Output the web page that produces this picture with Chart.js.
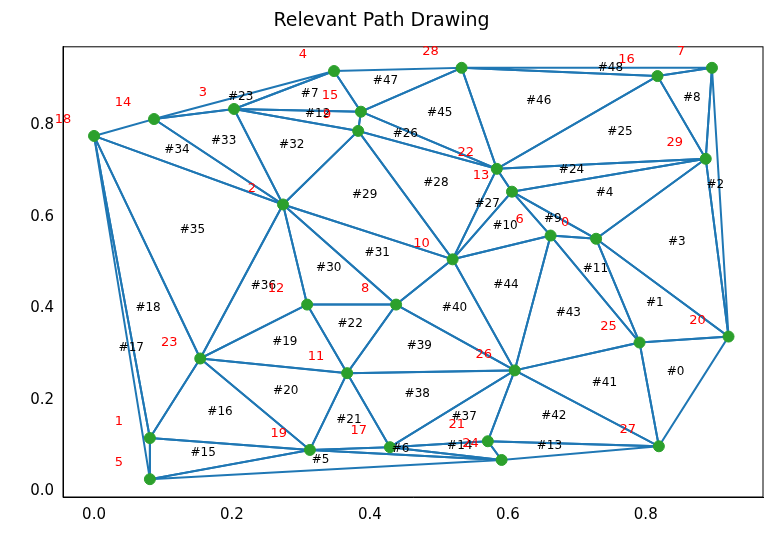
<!DOCTYPE html>
<html>
<head>
<meta charset="UTF-8">
<script src="https://cdn.jsdelivr.net/npm/chart.js"></script>
<style>body{margin:0;background:#fff}#wrap{width:775px;height:550px}</style>
</head>
<body>
<div id="wrap"><canvas id="c"></canvas></div>
<script>
// point coordinates (index = point id)
const ptX = [0.728,0.081,0.274,0.203,0.348,0.081,0.662,0.896,0.438,0.383,0.520,0.367,0.309,0.606,0.087,0.387,0.817,0.429,0.000,0.313,0.920,0.571,0.584,0.154,0.591,0.791,0.610,0.819,0.533,0.887];
const ptY = [0.552,0.116,0.627,0.836,0.919,0.026,0.559,0.926,0.408,0.788,0.507,0.258,0.408,0.655,0.814,0.830,0.908,0.096,0.777,0.090,0.338,0.109,0.705,0.290,0.068,0.325,0.264,0.098,0.926,0.727];
// triangles (index = triangle id)
const triangles = [
  [25,20,27],[0,20,25],[29,7,20],[0,29,20],[13,29,0],[5,19,24],[19,17,24],[3,4,15],
  [16,7,29],[13,6,0],[13,6,10],[6,0,25],[3,15,9],[21,27,24],[17,21,24],[1,19,5],
  [1,23,19],[18,1,5],[18,23,1],[23,12,11],[23,11,19],[11,17,19],[12,8,11],[14,4,3],
  [22,29,13],[22,16,29],[15,22,9],[22,13,10],[9,22,10],[2,9,10],[2,8,12],[2,10,8],
  [3,9,2],[14,3,2],[18,14,2],[18,2,23],[2,12,23],[17,26,21],[11,26,17],[8,26,11],
  [10,26,8],[26,25,27],[26,27,21],[6,25,26],[10,6,26],[15,28,22],[28,16,22],[4,28,15],[28,7,16]
];
const tickVals = [0.0, 0.2, 0.4, 0.6, 0.8];

const datasets = triangles.map(t => ({
  type: 'scatter', showLine: true, order: 1,
  data: [...t, t[0]].map(i => ({x: ptX[i], y: ptY[i]})),
  borderColor: '#1f77b4', borderWidth: 2, pointRadius: 0, fill: false
}));
datasets.push({
  type: 'scatter', order: 0,
  data: ptX.map((x, i) => ({x: x, y: ptY[i]})),
  backgroundColor: '#2ca02c', borderColor: '#2ca02c', pointRadius: 5.5, pointHoverRadius: 5.5
});

const labelPlugin = {
  id: 'labels',
  afterDatasetsDraw(chart) {
    const {ctx, scales: {x, y}, chartArea: a} = chart;
    ctx.save();
    ctx.strokeStyle = '#000'; ctx.lineWidth = 1;
    ctx.strokeRect(a.left, a.top, a.right - a.left, a.bottom - a.top);
    ctx.font = '12px "DejaVu Sans"';
    ctx.textAlign = 'center';
    ctx.textBaseline = 'alphabetic';
    ctx.fillStyle = '#000';
    triangles.forEach((t, k) => {
      const cx = (ptX[t[0]] + ptX[t[1]] + ptX[t[2]]) / 3;
      const cy = (ptY[t[0]] + ptY[t[1]] + ptY[t[2]]) / 3;
      ctx.fillText('#' + k, x.getPixelForValue(cx), y.getPixelForValue(cy));
    });
    ctx.font = '13px "DejaVu Sans"';
    ctx.fillStyle = 'red';
    ptX.forEach((px, i) => {
      ctx.fillText(String(i), x.getPixelForValue(px - 0.045), y.getPixelForValue(ptY[i] + 0.028));
    });
    ctx.restore();
  }
};

Chart.defaults.font.family = '"DejaVu Sans"';
Chart.defaults.color = '#000';
const fixTicks = s => { s.ticks = tickVals.map(v => ({value: v})); };
new Chart(document.getElementById('c'), {
  type: 'scatter',
  data: {datasets},
  plugins: [labelPlugin],
  options: {
    responsive: true, maintainAspectRatio: false, animation: false,
    layout: {padding: {left: 0, right: 12, top: 0, bottom: 0}},
    plugins: {
      legend: {display: false}, tooltip: {enabled: false},
      title: {display: true, text: 'Relevant Path Drawing', font: {size: 19, weight: 'normal'}, padding: {top: 10, bottom: 14}}
    },
    scales: {
      x: {
        min: -0.045, max: 0.97,
        afterBuildTicks: fixTicks,
        afterFit: s => { s.height = 53; },
        grid: {display: false, drawTicks: true, tickLength: 6, tickColor: '#000'},
        border: {color: '#000'},
        ticks: {font: {size: 15}, callback: v => v.toFixed(1)}
      },
      y: {
        min: -0.013, max: 0.972,
        afterBuildTicks: fixTicks,
        afterFit: s => { s.width = 63; },
        grid: {display: false, drawTicks: true, tickLength: 6, tickColor: '#000'},
        border: {color: '#000'},
        ticks: {font: {size: 15}, callback: v => v.toFixed(1)}
      }
    }
  }
});
</script>
</body>
</html>
